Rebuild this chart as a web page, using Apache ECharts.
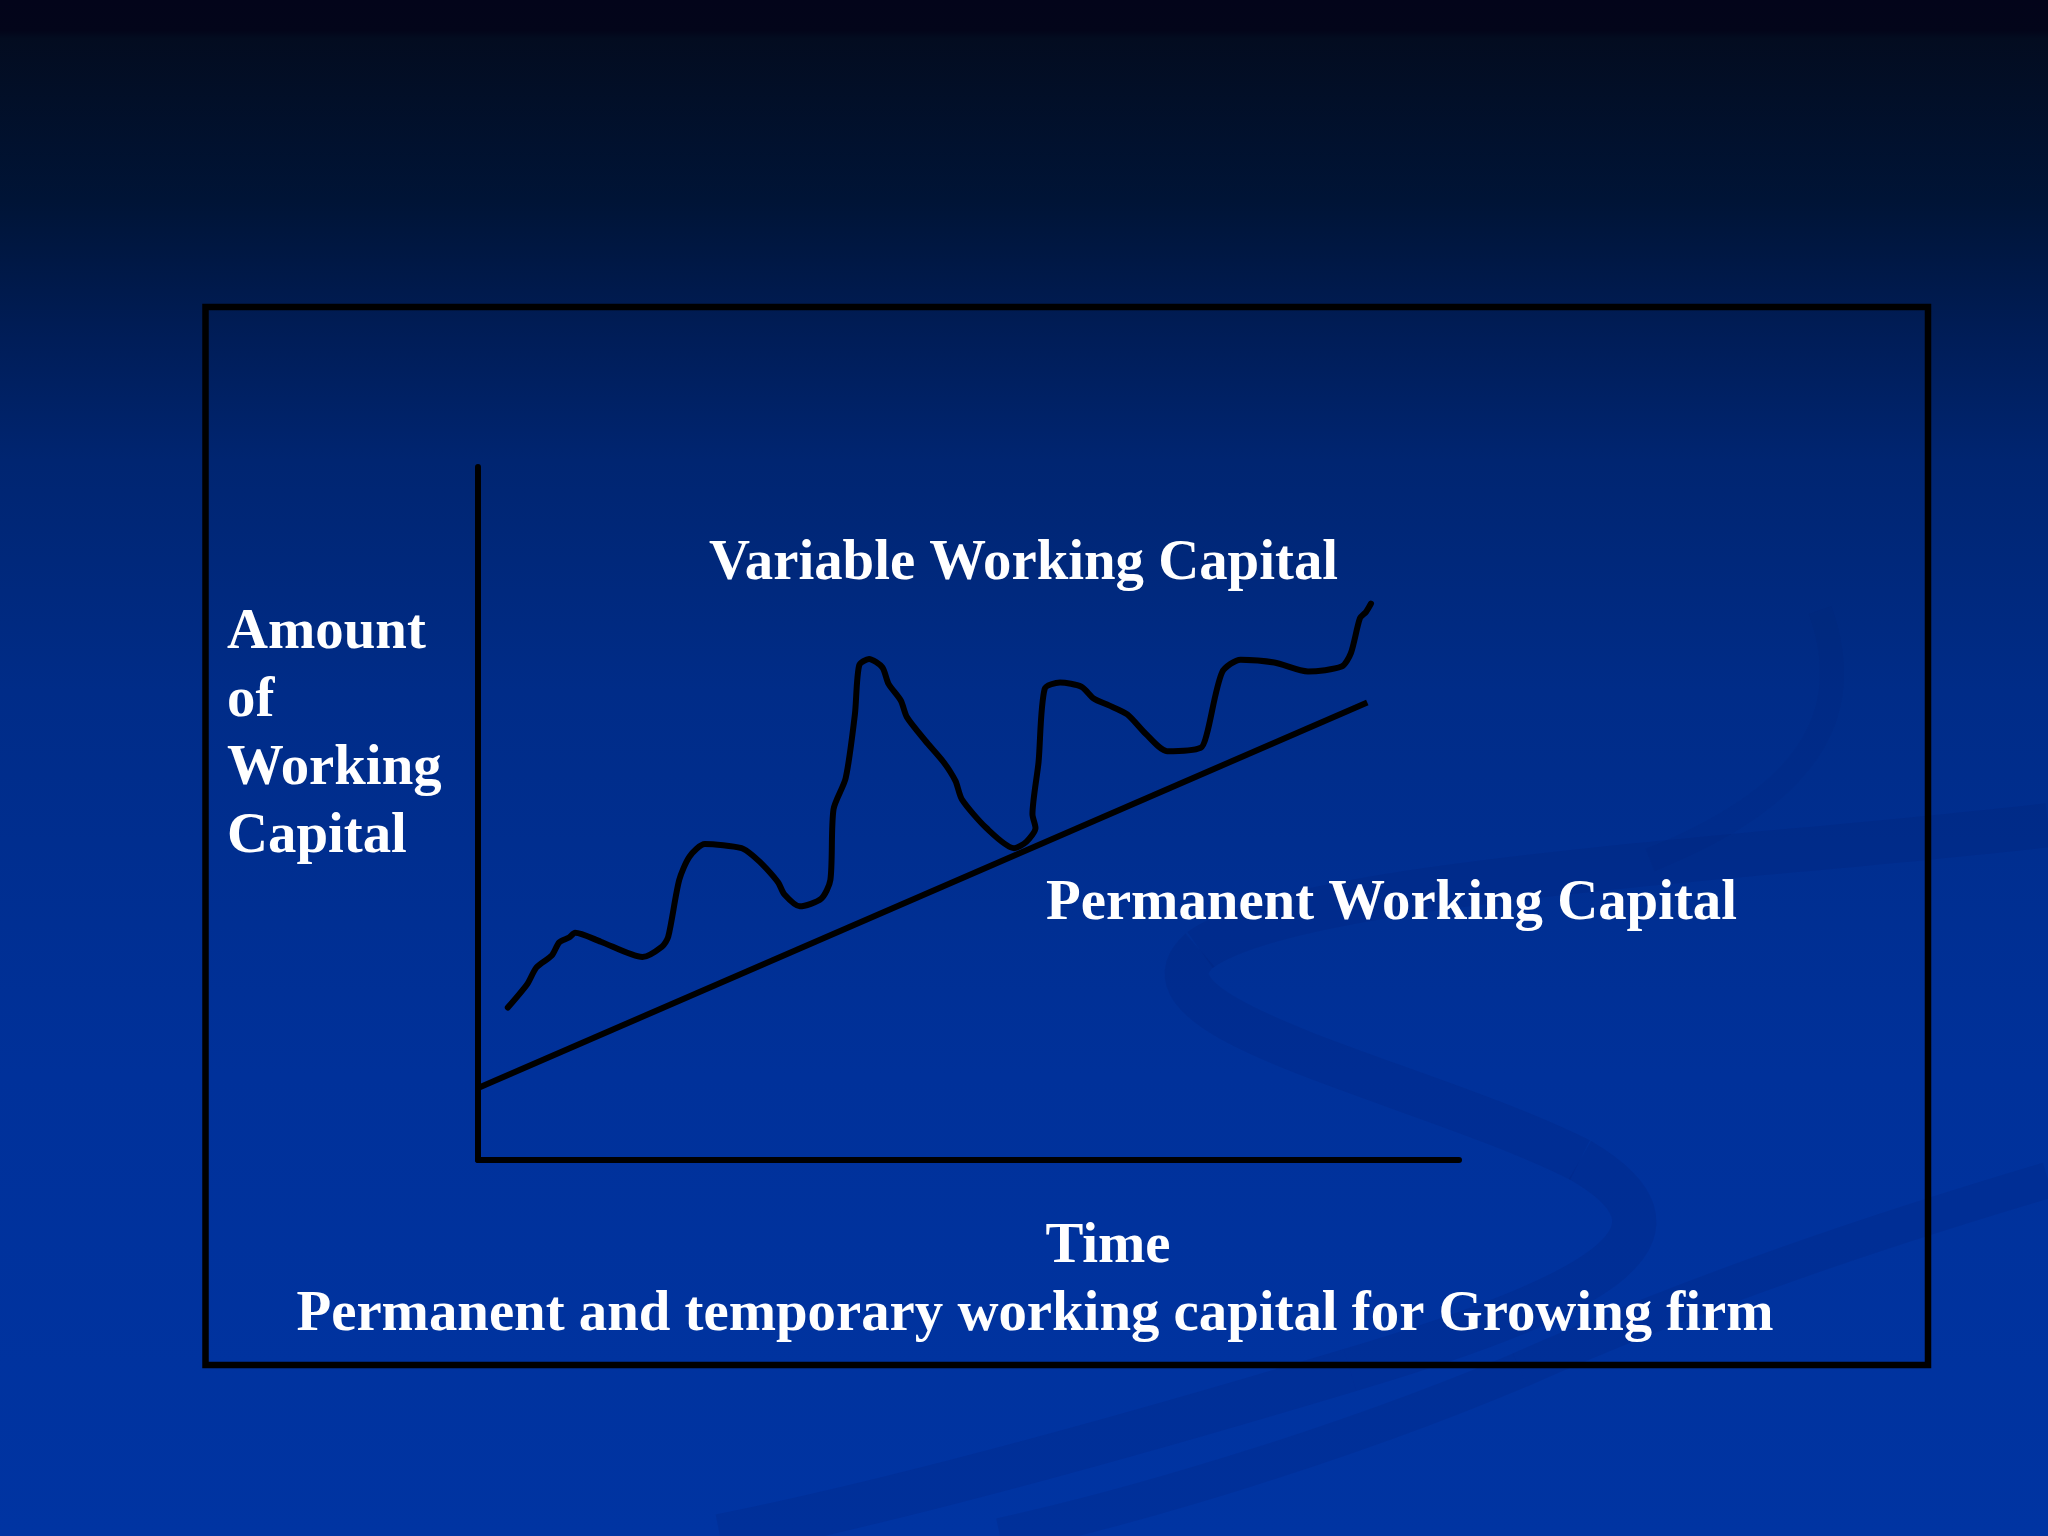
<!DOCTYPE html>
<html>
<head>
<meta charset="utf-8">
<script src="https://cdn.jsdelivr.net/npm/echarts@6/dist/echarts.min.js"></script>
<style>
html,body{margin:0;padding:0;width:2048px;height:1536px;overflow:hidden;}
#chart{width:2048px;height:1536px;}
</style>
</head>
<body>
<div id="chart"></div>
<script>
// Permanent working capital (straight trend line)
const permanentX = [0, 90.65];
const permanentY = [10.4, 66.0];

// Variable working capital (fluctuating curve)
const variableX = [3.04, 5.03, 5.96, 7.52, 8.28, 9.28, 9.90, 12.52, 16.76, 18.76, 19.39, 20.51, 21.57, 23.13, 26.87, 28.12, 29.37, 30.62, 31.24, 32.80, 34.98, 35.92, 36.24, 37.48, 38.42, 38.86, 39.86, 41.22, 41.85, 43.10, 43.72, 45.60, 47.47, 48.67, 49.34, 51.83, 54.65, 55.89, 56.83, 56.52, 57.14, 57.77, 59.33, 61.51, 62.76, 64.32, 66.19, 68.06, 70.24, 73.68, 74.30, 75.86, 77.74, 81.17, 84.61, 88.03, 88.97, 89.91, 90.53, 91.03];
const variableY = [22.0, 25.4, 27.8, 29.5, 31.4, 32.1, 32.8, 31.5, 29.3, 30.8, 32.2, 40.4, 43.8, 45.6, 45.0, 43.8, 42.1, 40.0, 38.3, 36.6, 37.7, 40.4, 50.6, 55.1, 64.3, 71.4, 72.3, 71.1, 68.7, 66.3, 63.9, 60.5, 57.4, 54.7, 52.0, 47.9, 45.0, 45.9, 47.9, 49.9, 57.4, 68.0, 68.9, 68.3, 66.6, 65.6, 64.3, 61.5, 59.0, 59.5, 61.5, 70.4, 72.2, 71.8, 70.5, 71.2, 73.1, 78.2, 79.1, 80.3];

// Text labels
const variableLabel = 'Variable Working Capital';
const permanentLabel = 'Permanent Working Capital';
const yAxisLabelLines = ['Amount', 'of', 'Working', 'Capital'];
const xAxisLabel = 'Time';
const captionText = 'Permanent and temporary working capital for Growing firm';

const chart = echarts.init(document.getElementById('chart'));
const font = '"Liberation Serif", "Times New Roman", serif';
const txt = (text, x, y, align) => ({
  type: 'text', z: 10,
  style: { text: text, x: x, y: y, fill: '#ffffff', fontFamily: font, fontWeight: 'bold', fontSize: 56.8, align: align || 'left', verticalAlign: 'middle' }
});
const swoosh = (p, w, a) => ({
  type: 'bezierCurve', z: 0, silent: true,
  shape: { x1: p[0], y1: p[1], cpx1: p[2], cpy1: p[3], cpx2: p[4], cpy2: p[5], x2: p[6], y2: p[7] },
  style: { fill: null, stroke: 'rgba(0,22,100,' + a + ')', lineWidth: w, lineCap: 'butt' }
});

const graphics = [
  swoosh([2048, 825, 1750, 860, 1300, 880, 1200, 950], 44, 0.13),
  swoosh([1200, 950, 1120, 1020, 1420, 1080, 1580, 1160], 44, 0.13),
  swoosh([1580, 1160, 1700, 1230, 1620, 1290, 1350, 1370], 44, 0.13),
  swoosh([1350, 1370, 1150, 1430, 900, 1500, 720, 1536], 44, 0.13),
  swoosh([2048, 1180, 1880, 1230, 1700, 1290, 1520, 1370], 36, 0.12),
  swoosh([1520, 1370, 1330, 1450, 1120, 1510, 1000, 1536], 36, 0.12),
  swoosh([1820, 610, 1860, 720, 1800, 800, 1650, 860], 24, 0.07),
  { type: 'rect', z: 5, shape: { x: 205.5, y: 307, width: 1722.5, height: 1058 },
    style: { fill: null, stroke: '#000000', lineWidth: 6.5 } },
  txt(variableLabel, 709, 564),
  txt(permanentLabel, 1046, 904),
  txt(xAxisLabel, 1108, 1247, 'center'),
  txt(captionText, 1035, 1315, 'center')
];
yAxisLabelLines.forEach((t, i) => graphics.push(txt(t, 227, 633 + i * 68)));

const option = {
  backgroundColor: {
    type: 'linear', x: 0, y: 0, x2: 0, y2: 1,
    colorStops: [
      { offset: 0, color: '#03041a' },
      { offset: 0.02, color: '#03051a' },
      { offset: 0.025, color: '#030c20' },
      { offset: 0.13, color: '#001436' },
      { offset: 0.22, color: '#001d58' },
      { offset: 0.3, color: '#002571' },
      { offset: 0.45, color: '#002c88' },
      { offset: 0.7, color: '#00319a' },
      { offset: 1, color: '#0034a2' }
    ]
  },
  animation: false,
  grid: { left: 478, top: 467, width: 981, height: 693, containLabel: false },
  xAxis: {
    type: 'value', min: 0, max: 100,
    axisLine: { show: true, lineStyle: { color: '#000000', width: 6 } },
    axisTick: { show: false }, axisLabel: { show: false }, splitLine: { show: false }
  },
  yAxis: {
    type: 'value', min: 0, max: 100,
    axisLine: { show: true, lineStyle: { color: '#000000', width: 6 } },
    axisTick: { show: false }, axisLabel: { show: false }, splitLine: { show: false }
  },
  graphic: graphics,
  series: [
    {
      name: 'Permanent Working Capital', type: 'line', showSymbol: false, symbol: 'none',
      data: permanentX.map((x, i) => [x, permanentY[i]]),
      lineStyle: { color: '#000000', width: 6 }, z: 3
    },
    {
      name: 'Variable Working Capital', type: 'line', showSymbol: false, symbol: 'none', smooth: 0.25,
      data: variableX.map((x, i) => [x, variableY[i]]),
      lineStyle: { color: '#000000', width: 6, join: 'round', cap: 'round' }, z: 3
    }
  ]
};
chart.setOption(option);
</script>
</body>
</html>
